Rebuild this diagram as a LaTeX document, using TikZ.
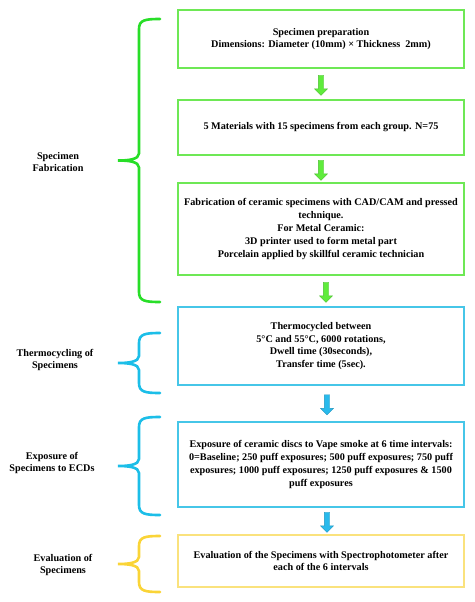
\documentclass[tikz,border=0pt]{standalone}
\usepackage{fontspec}
\setmainfont{Liberation Serif}
\usepackage{tikz}
\usetikzlibrary{shapes, shapes.arrows, calc, positioning}

\definecolor{boxgreen}{RGB}{110,232,85}
\definecolor{bracegreen}{RGB}{40,222,40}
\definecolor{boxcyan}{RGB}{70,198,232}
\definecolor{bracecyan}{RGB}{28,190,232}
\definecolor{boxyellow}{RGB}{250,226,125}
\definecolor{braceyellow}{RGB}{250,212,55}
\definecolor{arrgreen}{RGB}{95,236,60}
\definecolor{arrcyan}{RGB}{40,186,236}

\tikzset{
	stagebox/.style={draw, line width=1.4pt, minimum width=286pt, align=center,
		font=\bfseries\fontsize{10.2}{12.8}\selectfont, inner sep=0pt},
	greenbox/.style={stagebox, draw=boxgreen},
	cyanbox/.style={stagebox, draw=boxcyan},
	yellowbox/.style={stagebox, draw=boxyellow},
	downarrow/.style={single arrow, shape border rotate=270, minimum height=20pt,
		inner sep=2.5pt, single arrow head extend=3.8pt},
	greenarrow/.style={downarrow, fill=arrgreen, draw=arrgreen!80!black, line width=0.3pt},
	cyanarrow/.style={downarrow, fill=arrcyan, draw=arrcyan!80!black, line width=0.3pt},
	stagelabel/.style={align=center, font=\bfseries\fontsize{10.2}{12.8}\selectfont},
	bracepath/.style={line width=2.6pt, line cap=round}
}

\begin{document}
\begin{tikzpicture}[x=1pt, y=-1pt]
	
	\useasboundingbox (0,0) rectangle (474,602);
	
	%//boxes on the right
	\node [greenbox, minimum height=58pt] (prep) at (321,39)
	{Specimen preparation\\Dimensions: Diameter (10mm) × Thickness~ 2mm)};
	\node [greenbox, minimum height=55pt] (groups) at (321,127.5)
	{5 Materials with 15 specimens from each group. N=75};
	\node [greenbox, minimum height=92pt] (fab) at (321,229)
	{Fabrication of ceramic specimens with CAD/CAM and pressed\\technique.\\For Metal Ceramic:\\3D printer used to form metal part\\Porcelain applied by skillful ceramic technician};
	\node [cyanbox, minimum height=78pt] (thermo) at (321,346)
	{Thermocycled between\\5°C and 55°C, 6000 rotations,\\Dwell time (30seconds),\\Transfer time (5sec).};
	\node [cyanbox, minimum height=85pt] (vape) at (321,464.5)
	{Exposure of ceramic discs to Vape smoke at 6 time intervals:\\0=Baseline; 250 puff exposures; 500 puff exposures; 750 puff\\exposures; 1000 puff exposures; 1250 puff exposures \& 1500\\puff exposures};
	\node [yellowbox, minimum height=52pt] (eval) at (321,561)
	{Evaluation of the Specimens with Spectrophotometer after\\each of the 6 intervals};
	
	%//arrows between the boxes
	\node [greenarrow] (a1) at ($(prep.south)!0.5!(groups.north)$) {};
	\node [greenarrow] (a2) at ($(groups.south)!0.5!(fab.north)$) {};
	\node [greenarrow, xshift=5pt] (a3) at ($(fab.south)!0.5!(thermo.north)$) {};
	\node [cyanarrow, xshift=6pt] (a4) at ($(thermo.south)!0.5!(vape.north)$) {};
	\node [cyanarrow, xshift=6pt] (a5) at ($(vape.south)!0.5!(eval.north)$) {};
	
	%//braces on the left
	\foreach \top/\bot/\col in {19/302/bracegreen, 333/393/bracecyan, 417/515/bracecyan, 536/592/braceyellow}
	\draw [bracepath, draw=\col] (160,\top) .. controls (145,\top) and (139,\top+1) .. (139,\top+10)
	-- (139,{(\top+\bot)/2-7}) .. controls (139,{(\top+\bot)/2-1}) and (128,{(\top+\bot)/2}) .. (118,{(\top+\bot)/2})
	.. controls (128,{(\top+\bot)/2}) and (139,{(\top+\bot)/2+1}) .. (139,{(\top+\bot)/2+7})
	-- (139,\bot-10) .. controls (139,\bot-1) and (145,\bot) .. (160,\bot);
	
	%//labels of the stages
	\node [stagelabel] (fablabel) at (58,162) {Specimen\\Fabrication};
	\node [stagelabel] (thermolabel) at (55,360) {Thermocycling of\\Specimens};
	\node [stagelabel] (vapelabel) at (52,463) {Exposure of\\Specimens to ECDs};
	\node [stagelabel] (evallabel) at (63,565) {Evaluation of\\Specimens};
	
\end{tikzpicture}
\end{document}
